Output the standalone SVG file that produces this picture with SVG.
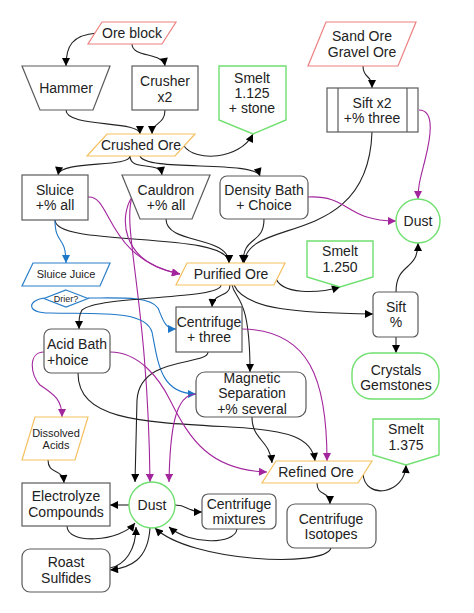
<svg xmlns="http://www.w3.org/2000/svg" width="474" height="613" viewBox="0 0 474 613">
<style>
text{font-family:"Liberation Sans",Arial,sans-serif;font-size:14px;fill:#222;text-anchor:middle}
.sm{font-size:11px}
.xs{font-size:9px}
.n{fill:#fff;stroke:#5a5a5a;stroke-width:1.2}
.red{fill:#fff;stroke:#ee8080;stroke-width:1.2}
.org{fill:#fff;stroke:#f5c060;stroke-width:1.2}
.grn{fill:#fff;stroke:#70e070;stroke-width:1.4}
.blu{fill:#fff;stroke:#2a7fc8;stroke-width:1.2}
.k{fill:none;stroke:#222;stroke-width:1.1;marker-end:url(#ak)}
.p{fill:none;stroke:#a3259d;stroke-width:1.1;marker-end:url(#ap)}
.b{fill:none;stroke:#1f77c8;stroke-width:1.1;marker-end:url(#ab)}
</style>
<defs>
<marker id="ak" viewBox="0 0 10 10" refX="10" refY="5" markerWidth="9" markerHeight="8" orient="auto" markerUnits="userSpaceOnUse"><path d="M0,0L10,5L0,10z" fill="#000"/></marker>
<marker id="ap" viewBox="0 0 10 10" refX="10" refY="5" markerWidth="9" markerHeight="8" orient="auto" markerUnits="userSpaceOnUse"><path d="M0,0L10,5L0,10z" fill="#a3259d"/></marker>
<marker id="ab" viewBox="0 0 10 10" refX="10" refY="5" markerWidth="9" markerHeight="8" orient="auto" markerUnits="userSpaceOnUse"><path d="M0,0L10,5L0,10z" fill="#1f77c8"/></marker>
</defs>
<g id="connectors">
<path class="k" d="M97,33 C72,35 66,46 66,66"/>
<path class="k" d="M132,44 C132,58 163,52 165,66"/>
<path class="k" d="M363,66 C363,79 372,74 372,88"/>
<path class="k" d="M66,110 C66,128 140,120 140,134"/>
<path class="k" d="M165,110 C165,125 152,122 152,134"/>
<path class="k" d="M184,146 C195,162 240,160 253,134"/>
<path class="k" d="M130,156 C130,168 60,160 58,175"/>
<path class="k" d="M130,156 C130,172 160,160 162,175"/>
<path class="k" d="M140,156 C145,172 255,160 260,176"/>
<path class="k" d="M372,132 C368,250 248,215 244,263"/>
<path class="p" d="M419,110 C436,110 430,140 425,160 C420,180 418,186 418,199"/>
<path class="p" d="M308,197 C350,195 345,221 396,221"/>
<path class="k" d="M396,292 C396,262 418,272 418,243"/>
<path class="k" d="M275,276 C280,296 320,293 340,287"/>
<path class="k" d="M166,219 C166,245 229,235 229,263"/>
<path class="k" d="M55,220 C55,248 229,230 229,263"/>
<path class="k" d="M264,219 C264,245 243,235 243,263"/>
<path class="p" d="M88,197 C112,195 105,258 180,274"/>
<path class="p" d="M132,197 C120,215 118,262 180,274"/>
<path class="p" d="M132,197 C122,230 148,300 150,482"/>
<path class="b" d="M55,220 C55,245 66,235 66,263"/>
<path class="b" d="M88,298 C120,298 150,296 158,308 C163,320 165,329 176,329"/>
<path class="b" d="M44,298 C28,300 25,313 50,313 C100,314 145,310 152,332 C158,362 160,394 196,394"/>
<path class="k" d="M230,285 C230,298 213,292 212,307"/>
<path class="k" d="M221,285 C221,300 100,295 82,310 C79,315 79,320 79,329"/>
<path class="k" d="M232,285 C235,300 250,295 250,372"/>
<path class="k" d="M234,285 C245,310 300,313 373,314"/>
<path class="k" d="M208,352 C208,366 140,355 137,400 L135,482"/>
<path class="p" d="M242,329 C310,330 327,380 327,461"/>
<path class="k" d="M252,417 C252,440 270,440 272,463"/>
<path class="k" d="M78,373 C78,420 140,422 230,427 C290,430 312,438 315,461"/>
<path class="p" d="M110,352 C140,352 160,380 170,400 C190,440 210,470 267,472"/>
<path class="p" d="M44,352 C28,352 30,375 40,385 C55,395 62,400 62,417"/>
<path class="p" d="M196,394 C175,394 170,430 169,482"/>
<path class="k" d="M48,460 C48,475 63,468 64,483"/>
<path class="k" d="M129,505 L110,505"/>
<path class="k" d="M67,526 C67,545 120,542 135,523"/>
<path class="k" d="M110,568 C125,565 136,550 136,527"/>
<path class="k" d="M150,528 C148,560 130,568 110,570"/>
<path class="k" d="M331,548 C325,568 190,562 155,528"/>
<path class="k" d="M175,505 C188,505 188,512 202,512"/>
<path class="k" d="M237,529 C235,545 190,545 169,527"/>
<path class="k" d="M317,483 C317,497 330,490 330,504"/>
<path class="k" d="M363,474 C365,500 405,495 406,465"/>
<path class="k" d="M396,337 L396,353"/>
</g>
<g id="ore-block"><polygon class="red" points="102,22 176,22 162,44 88,44"/><text x="132" y="38">Ore block</text></g>
<g id="hammer"><polygon class="n" points="22,66 110,66 93,110 40,110"/><text x="66" y="93">Hammer</text></g>
<g id="crusher"><rect class="n" x="132" y="66" width="66" height="44"/><text x="165" y="86">Crusher</text><text x="165" y="102">x2</text></g>
<g id="smelt-1125"><polygon class="grn" points="219,66 286,66 286,120 253,134 219,120"/><text x="252" y="83">Smelt</text><text x="252" y="98">1.125</text><text x="252" y="113">+ stone</text></g>
<g id="sand-gravel"><polygon class="red" points="326,22 416,22 398,66 308,66"/><text x="362" y="41">Sand Ore</text><text x="362" y="57">Gravel Ore</text></g>
<g id="sift-x2"><rect class="n" x="327" y="88" width="91" height="44"/><line class="n" x1="338" y1="88" x2="338" y2="132"/><line class="n" x1="407" y1="88" x2="407" y2="132"/><text x="372" y="108">Sift x2</text><text x="372" y="123">+% three</text></g>
<g id="crushed-ore"><polygon class="org" points="107,134 195,134 175,156 87,156"/><text x="141" y="150">Crushed Ore</text></g>
<g id="sluice"><rect class="n" x="22" y="175" width="66" height="45"/><text x="55" y="195">Sluice</text><text x="55" y="210">+% all</text></g>
<g id="cauldron"><polygon class="n" points="122,175 210,175 192,219 140,219"/><text x="166" y="195">Cauldron</text><text x="166" y="210">+% all</text></g>
<g id="density-bath"><rect class="n" x="220" y="176" width="88" height="43" rx="7"/><text x="264" y="195">Density Bath</text><text x="264" y="210">+ Choice</text></g>
<g id="dust-right"><circle class="grn" cx="418" cy="221" r="22"/><text x="418" y="226">Dust</text></g>
<g id="purified-ore"><polygon class="org" points="187,263 285,263 274,285 176,285"/><text x="231" y="279">Purified Ore</text></g>
<g id="smelt-1250"><polygon class="grn" points="307,241 373,241 373,277 340,287 307,277"/><text x="340" y="256">Smelt</text><text x="340" y="272">1.250</text></g>
<g id="sluice-juice"><polygon class="blu" points="33,263 110,263 100,286 22,286"/><text class="sm" x="66" y="278">Sluice Juice</text></g>
<g id="drier"><polygon class="blu" points="66,290 88,298.5 66,307 44,298.5"/><text class="xs" x="66" y="302">Drier?</text></g>
<g id="centrifuge-three"><rect class="n" x="176" y="307" width="66" height="45"/><text x="209" y="327">Centrifuge</text><text x="209" y="342">+ three</text></g>
<g id="sift-pct"><rect class="n" x="373" y="292" width="45" height="45" rx="5"/><text x="396" y="312">Sift</text><text x="396" y="327">%</text></g>
<g id="crystals"><rect class="grn" x="352" y="353" width="87" height="46" rx="20"/><text x="396" y="375">Crystals</text><text x="396" y="390">Gemstones</text></g>
<g id="acid-bath"><rect class="n" x="44" y="329" width="66" height="44" rx="7"/><text x="47" y="349" style="text-anchor:start">Acid Bath</text><text x="47" y="365" style="text-anchor:start">+hoice</text></g>
<g id="magnetic"><rect class="n" x="196" y="372" width="110" height="45" rx="9"/><text x="252" y="383">Magnetic</text><text x="252" y="398">Separation</text><text x="252" y="414">+% several</text></g>
<g id="dissolved-acids"><polygon class="org" points="35,417 88,417 75,460 22,460"/><text class="sm" x="56" y="437">Dissolved</text><text class="sm" x="56" y="449">Acids</text></g>
<g id="smelt-1375"><polygon class="grn" points="373,419 439,419 439,455 406,465 373,455"/><text x="406" y="434">Smelt</text><text x="406" y="450">1.375</text></g>
<g id="refined-ore"><polygon class="org" points="276,461 372,461 358,483 262,483"/><text x="316" y="477">Refined Ore</text></g>
<g id="electrolyze"><rect class="n" x="22" y="483" width="88" height="43"/><text x="66" y="501">Electrolyze</text><text x="66" y="517">Compounds</text></g>
<g id="dust-bottom"><circle class="grn" cx="152" cy="505" r="23"/><text x="152" y="510">Dust</text></g>
<g id="centrifuge-mixtures"><rect class="n" x="202" y="494" width="74" height="35" rx="6"/><text x="239" y="509">Centrifuge</text><text x="239" y="524">mixtures</text></g>
<g id="centrifuge-isotopes"><rect class="n" x="287" y="504" width="89" height="44" rx="8"/><text x="331" y="524">Centrifuge</text><text x="331" y="539">Isotopes</text></g>
<g id="roast-sulfides"><rect class="n" x="22" y="549" width="88" height="43" rx="8"/><text x="66" y="567">Roast</text><text x="66" y="583">Sulfides</text></g>
</svg>
